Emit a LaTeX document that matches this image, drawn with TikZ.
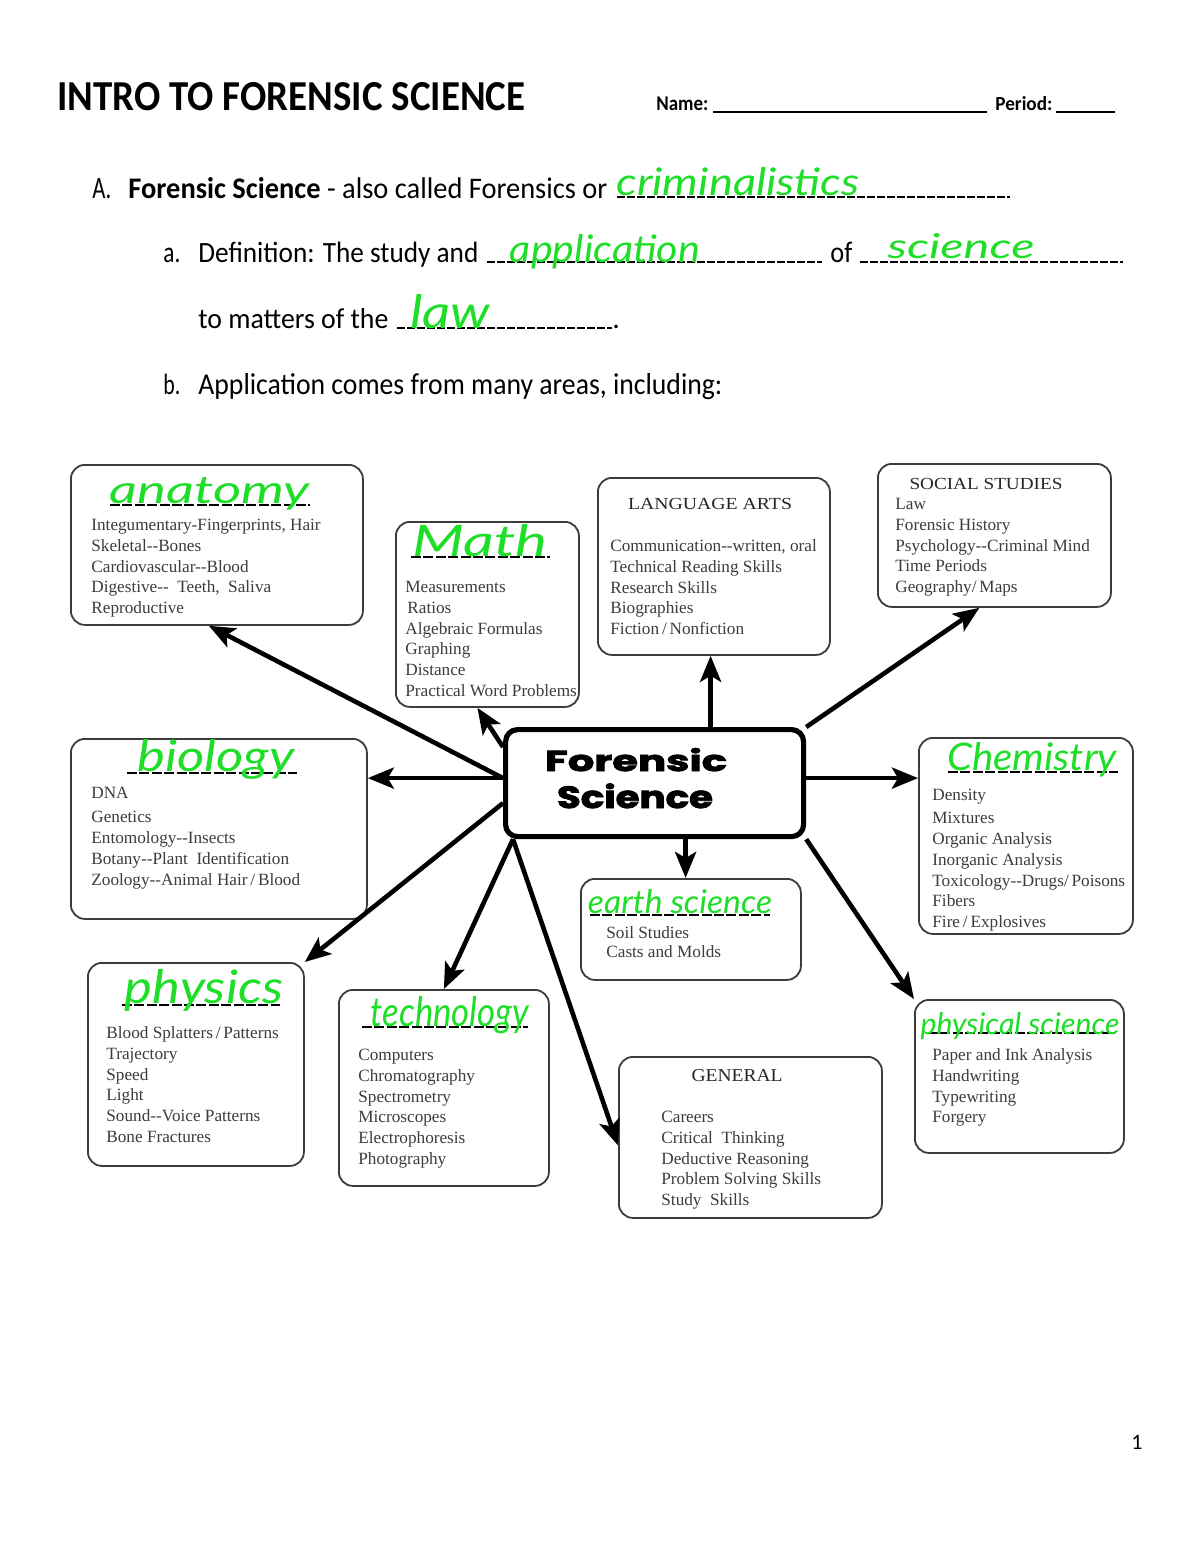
\documentclass[tikz,border=0pt]{standalone}
\usepackage{fontspec}
\setmainfont{Liberation Serif}
\newfontfamily\hdr{Carlito}
\newfontfamily\heavy{Poppins}[BoldFeatures={FakeBold=2.5}]
\newfontfamily\hand{Lato}
\usetikzlibrary{arrows.meta}
\definecolor{pen}{RGB}{30,222,40}
\definecolor{ink}{RGB}{60,60,60}
\begin{document}
\begin{tikzpicture}[x=0.5pt,y=-0.5pt,
  box/.style={draw=ink, line width=0.9pt, rounded corners=7pt, inner sep=0, anchor=north west},
  items/.style={anchor=north west, inner sep=0, align=left, text=ink, font=\fontsize{8.6pt}{10.4pt}\selectfont},
  ttl/.style={anchor=base, inner sep=0, text=black!85},
  hd/.style={anchor=base west, inner sep=0},
  pentext/.style={anchor=base, inner sep=0, text=pen},
  arr/.style={line width=2.3pt, -{Stealth[length=13pt,width=10.5pt,inset=3pt]}},
  blankline/.style={line width=0.55pt, dash pattern=on 4pt off 1pt},
  uline/.style={line width=0.8pt, dash pattern=on 5pt off 1.2pt}]
\useasboundingbox[fill=white] (0,0) rectangle (1200,1553);

% ---------- header ----------
\node[hd] (title) at (57,110) {\resizebox{234pt}{14pt}{\hdr\bfseries INTRO TO FORENSIC SCIENCE}};
\node[hd] (name) at (656,110) {\resizebox{26pt}{6.8pt}{\hdr\bfseries Name:}};
\node[hd] (period) at (995,110) {\resizebox{28.5pt}{7pt}{\hdr\bfseries Period:}};
\draw[line width=0.6pt] (713,112) -- (987,112);
\draw[line width=0.6pt] (1056,112) -- (1115,112);

\node[hd] (lA) at (92,198) {\resizebox{9.5pt}{10pt}{\hdr A.}};
\node[hd] (tA) at (128,198) {\resizebox{239.5pt}{10.5pt}{\hdr\textbf{Forensic Science} - also called Forensics or}};
\draw[blankline] (617,197) -- (1010,197);
\node[pentext] (wA) at (738,195) {\resizebox{121.5pt}{14pt}{\hand\itshape criminalistics}};

\node[hd] (la) at (163,262) {\resizebox{8.5pt}{7.2pt}{\hdr a.}};
\node[hd] (ta) at (198,262) {\resizebox{140pt}{10.2pt}{\hdr Definition: The study and}};
\draw[blankline] (487,262) -- (822,262);
\node[hd] (of) at (830,262) {\resizebox{11pt}{10.2pt}{\hdr of}};
\draw[blankline] (860,262) -- (1123,262);
\node[pentext] (wa1) at (605,262) {\resizebox{95pt}{14pt}{\hand\itshape application}};
\node[pentext] (wa2) at (961,258) {\resizebox{73.5pt}{12.5pt}{\hand\itshape science}};

\node[hd] (tm) at (198,328) {\resizebox{95pt}{10pt}{\hdr to matters of the}};
\draw[blankline] (397,328) -- (612,328);
\node[hd] (dot) at (612,328) {\hdr\fontsize{15pt}{15pt}\selectfont .};
\node[pentext] (wlaw) at (450,328) {\resizebox{40pt}{17pt}{\hand\itshape law}};

\node[hd] (lb) at (163,394) {\resizebox{8.5pt}{10.2pt}{\hdr b.}};
\node[hd] (tb) at (198,394) {\resizebox{262pt}{10.5pt}{\hdr Application comes from many areas, including:}};

% ---------- boxes ----------
\node[box, minimum width=146pt, minimum height=80pt] (anat) at (70,464) {};
\node[box, minimum width=91.5pt, minimum height=92.5pt] (math) at (395,521) {};
\node[box, minimum width=116pt, minimum height=88.5pt] (lang) at (597,477) {};
\node[box, minimum width=116.5pt, minimum height=71.5pt] (soc) at (877,463) {};
\node[box, minimum width=148pt, minimum height=90pt] (bio) at (70,738) {};
\node[box, minimum width=107pt, minimum height=98pt] (chem) at (918,737) {};
\node[box, minimum width=110pt, minimum height=50.5pt] (earth) at (580,878) {};
\node[box, minimum width=108pt, minimum height=101.5pt] (phys) at (87,962) {};
\node[box, minimum width=105pt, minimum height=98pt] (tech) at (338,989) {};
\node[box, minimum width=131.5pt, minimum height=80.5pt] (gen) at (618,1056) {};
\node[box, minimum width=104.5pt, minimum height=76.5pt] (ps) at (914,999) {};
\node[box, draw=black, line width=2.6pt, rounded corners=6pt, minimum width=149pt, minimum height=53.5pt] (ctr) at (503,727) {};

% center text
\node[ttl, text=black] (ctr1) at (636,771) {\resizebox{91pt}{11.5pt}{\heavy\bfseries Forensic}};
\node[ttl, text=black] (ctr2) at (635,808) {\resizebox{78pt}{12.3pt}{\heavy\bfseries Science}};

% titles
\node[ttl] (langT) at (710,509) {\resizebox{82pt}{5.6pt}{LANGUAGE ARTS}};
\node[ttl] (socT) at (986,489) {\resizebox{76.5pt}{5.6pt}{SOCIAL STUDIES}};
\node[ttl] (genT) at (737,1081) {\resizebox{45.5pt}{6pt}{GENERAL}};

% green headings + underlines
\draw[uline] (110,505) -- (310,505);
\node[pentext] (wanat) at (210,503) {\resizebox{100pt}{13pt}{\hand\itshape anatomy}};
\draw[uline] (411,557) -- (550,557);
\node[pentext] (wmath) at (480,556) {\resizebox{67.5pt}{16pt}{\hand\itshape Math}};
\draw[uline] (127,773) -- (297,773);
\node[pentext] (wbio) at (216,771) {\resizebox{78.5pt}{16pt}{\hand\itshape biology}};
\draw[uline] (948,772) -- (1118,772);
\node[pentext] (wchem) at (1032,770) {\resizebox{85pt}{14pt}{\hand\itshape Chemistry}};
\draw[uline] (590,915) -- (770,915);
\node[pentext] (wearth) at (680,913) {\resizebox{92pt}{12pt}{\hand\itshape earth science}};
\draw[uline] (122,1005) -- (280,1005);
\node[pentext] (wphys) at (204,1003) {\resizebox{79pt}{17pt}{\hand\itshape physics}};
\draw[uline] (362,1027) -- (528,1027);
\node[pentext] (wtech) at (450,1026) {\resizebox{79pt}{15pt}{\hand\itshape technology}};
\draw[uline] (928,1033) -- (1115,1033);
\node[pentext] (wps) at (1020,1034) {\resizebox{99.5pt}{11pt}{\hand\itshape physical science}};

% item lists
\node[items] (anatI) at (91,515.5) {\strut Integumentary-Fingerprints, Hair\\ Skeletal-{}-Bones\\ Cardiovascular-{}-Blood\\ Digestive-{}-\ \ Teeth,\ \ Saliva\\ Reproductive};
\node[items] (mathI) at (405,577.5) {\strut Measurements\\ \hspace{1pt}Ratios\\ Algebraic Formulas\\ Graphing\\ Distance\\ Practical Word Problems};
\node[items] (langI) at (610,536.5) {\strut Communication-{}-written, oral\\ Technical Reading Skills\\ Research Skills\\ Biographies\\ Fiction\,/\,Nonfiction};
\node[items] (socI) at (895,494.5) {\strut Law\\ Forensic History\\ Psychology-{}-Criminal Mind\\ Time Periods\\ Geography/\,Maps};
\node[items] (bioI) at (91,783.5) {\strut DNA\\[1.8pt] Genetics\\ Entomology-{}-Insects\\ Botany-{}-Plant\ \ Identification\\ Zoology-{}-Animal Hair\,/\,Blood};
\node[items] (chemI) at (932,785.5) {\strut Density\\[1.2pt] Mixtures\\ Organic Analysis\\ Inorganic Analysis\\ Toxicology-{}-Drugs/\,Poisons\\ Fibers\\ Fire\,/\,Explosives};
\node[items, font=\fontsize{8.6pt}{9.5pt}\selectfont] (earthI) at (606,924.5) {\strut Soil Studies\\ Casts and Molds};
\node[items] (physI) at (106,1023.5) {\strut Blood Splatters\,/\,Patterns\\ Trajectory\\ Speed\\ Light\\ Sound-{}-Voice Patterns\\ Bone Fractures};
\node[items] (techI) at (358,1045.5) {\strut Computers\\ Chromatography\\ Spectrometry\\ Microscopes\\ Electrophoresis\\ Photography};
\node[items] (genI) at (661,1107.5) {\strut Careers\\ Critical\ \ Thinking\\ Deductive Reasoning\\ Problem Solving Skills\\ Study\ \ Skills};
\node[items] (psI) at (932,1045.5) {\strut Paper and Ink Analysis\\ Handwriting\\ Typewriting\\ Forgery};

% ---------- arrows ----------
\draw[arr] ([yshift=2.5pt]ctr.west) -- ([xshift=-4pt]anat.south);
\draw[arr] ([yshift=-10pt]ctr.north west) -- ([xshift=-5pt]math.south);
\draw[arr] ([xshift=28pt]ctr.north) -- ([xshift=28pt]ctr.north |- lang.south);
\draw[arr] (ctr.north east) -- ([xshift=-7.5pt]soc.south);
\draw[arr] ([yshift=2.5pt]ctr.west) -- ([yshift=2.5pt]ctr.west -| bio.east);
\draw[arr] ([yshift=2.5pt]ctr.east) -- ([yshift=2.5pt]ctr.east -| chem.west);
\draw[arr] ([xshift=15.5pt]ctr.south) -- ([xshift=15.5pt]ctr.south |- earth.north);
\draw[arr] ([yshift=-10pt]ctr.west) -- (phys.north east);
\draw[arr] ([xshift=5pt]ctr.south west) -- (tech.north);
\draw[arr] ([xshift=5pt]ctr.south west) -- ([yshift=-4pt]gen.west);
\draw[arr] (ctr.south east) -- (ps.north west);

% page number
\node[hd] (pg) at (1131,1449) {\hdr\fontsize{11pt}{11pt}\selectfont 1};
\end{tikzpicture}
\end{document}
